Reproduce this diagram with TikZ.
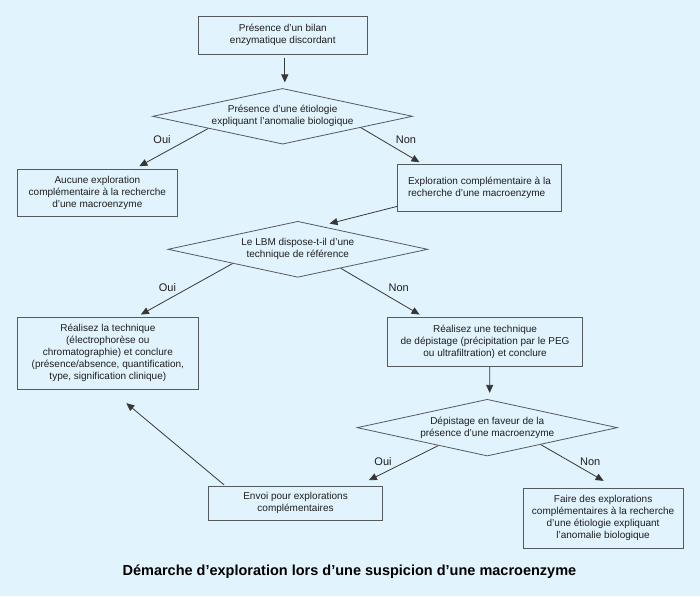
\documentclass[tikz,border=0pt]{standalone}
\usepackage{fontspec}
\setmainfont{Liberation Sans}
\usetikzlibrary{shapes.geometric,arrows.meta,calc}
\definecolor{bgblue}{RGB}{225,243,252}
\definecolor{linegray}{RGB}{55,55,55}
\definecolor{boxgray}{RGB}{85,90,95}
\definecolor{txtgray}{RGB}{30,30,30}
\begin{document}
\begin{tikzpicture}[x=1pt,y=-1pt,
  every node/.style={font=\fontsize{10}{12}\selectfont, text=txtgray},
  box/.style={draw=boxgray, line width=0.9pt, rectangle, align=center, inner sep=0pt},
  decision/.style={draw=boxgray, line width=0.8pt, diamond, align=center, inner sep=0pt, aspect=4.6},
  conn/.style={draw=linegray, line width=0.8pt, -{Triangle[length=8pt,width=7pt]}},
  answer/.style={font=\fontsize{11}{13}\selectfont},
  titlestyle/.style={font=\fontsize{14.5}{16}\selectfont\bfseries, text=black}
]
\fill[bgblue] (0,0) rectangle (700,596);
\useasboundingbox (0,0) rectangle (700,596);

\node[box, minimum width=168.3pt, minimum height=38pt] (b1) at (282.8,35)
  {Présence d'un bilan\\enzymatique discordant};
\node[decision, minimum width=259.8pt, minimum height=55.7pt] (d1) at (282.6,116.3)
  {Présence d'une étiologie\\expliquant l'anomalie biologique};
\node[box, minimum width=160.7pt, minimum height=46.3pt] (aucune) at (97.35,192.85)
  {Aucune exploration\\complémentaire à la recherche\\d'une macroenzyme};
\node[box, align=left, minimum width=164.3pt, minimum height=46.3pt] (explo) at (479.45,187.85)
  {Exploration complémentaire à la\\recherche d'une macroenzyme};
\node[decision, minimum width=259.8pt, minimum height=56pt] (d2) at (297.8,249.3)
  {Le LBM dispose-t-il d'une\\technique de référence};
\node[box, minimum width=181.7pt, minimum height=71.3pt] (tech) at (107.85,353.35)
  {Réalisez la technique\\(électrophorèse ou\\chromatographie) et conclure\\(présence/absence, quantification,\\type, signification clinique)};
\node[box, minimum width=195.1pt, minimum height=48.3pt] (depist) at (485.05,341.85)
  {Réalisez une technique\\de dépistage (précipitation par le PEG\\ou ultrafiltration) et conclure};
\node[decision, minimum width=260.3pt, minimum height=56.7pt] (d3) at (487.25,427.65)
  {Dépistage en faveur de la\\présence d'une macroenzyme};
\node[box, minimum width=174.1pt, minimum height=33.3pt] (envoi) at (295.55,503.35)
  {Envoi pour explorations\\complémentaires};
\node[box, minimum width=159.8pt, minimum height=60pt] (faire) at (603.1,518.3)
  {Faire des explorations\\complémentaires à la recherche\\d'une étiologie expliquant\\l'anomalie biologique};

\node[answer] (oui1) at (162,139.3) {Oui};
\node[answer] (non1) at (406,139.3) {Non};
\node[answer] (oui2) at (167.4,287.3) {Oui};
\node[answer] (non2) at (398.7,288) {Non};
\node[answer] (oui3) at (383,461.7) {Oui};
\node[answer] (non3) at (590.2,461.7) {Non};

\node[titlestyle] (title) at (349.4,571.7) {Démarche d’exploration lors d’une suspicion d’une macroenzyme};

\draw[conn] ($(b1.south)+(2,3.3)$) -- ($(d1.north)+(2.2,-5.6)$);
\draw[conn] ($(d1.west)!0.43!(d1.south)$) -- ($(aucune.north)+(42,-3)$);
\draw[conn] ($(d1.south)!0.6!(d1.east)$) -- ($(explo.north)+(-60,-2)$);
\draw[conn] ($(explo.south west)+(0,-5)$) -- ($(d2.north)+(31.7,2.7)$);
\draw[conn] ($(d2.west)!0.5!(d2.south)$) -- ($(tech.north)+(33,-2.7)$);
\draw[conn] ($(d2.south)!0.33!(d2.east)$) -- ($(depist.north)+(-65.5,-2.7)$);
\draw[conn] ($(depist.south)+(4.6,0)$) -- ($(d3.north)+(2.4,-6)$);
\draw[conn] ($(d3.west)!0.625!(d3.south)$) -- ($(envoi.north)+(73.3,-6)$);
\draw[conn] ($(d3.south)!0.41!(d3.east)$) -- ($(faire.north)+(0.5,-7)$);
\draw[conn] ($(envoi.north west)+(16,-1.4)$) -- ($(tech.south)+(18.5,13.7)$);
\end{tikzpicture}
\end{document}
